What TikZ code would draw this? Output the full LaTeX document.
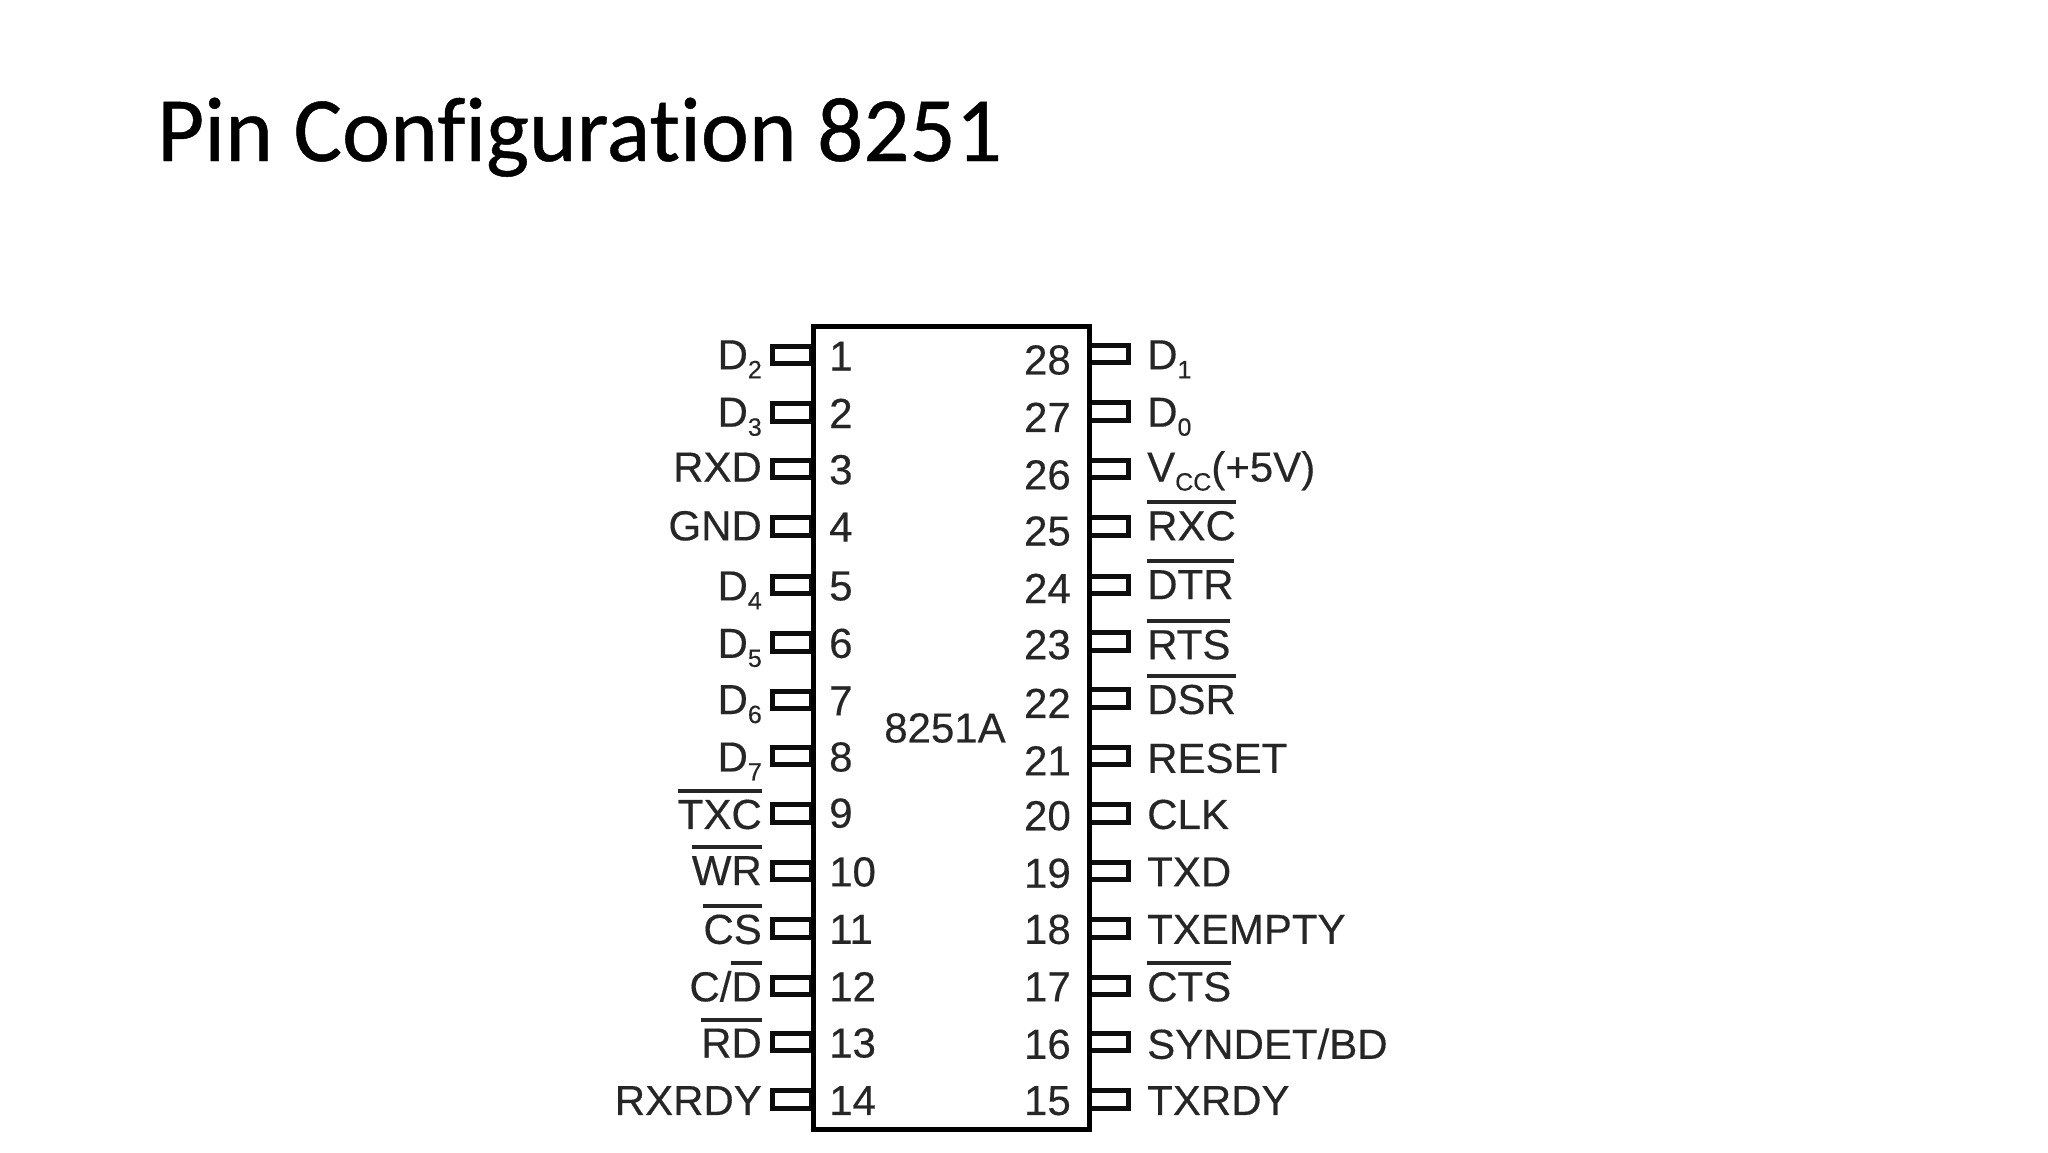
\documentclass[tikz,border=0pt]{standalone}
\usepackage{fontspec}
\setmainfont{Liberation Sans}[FakeBold=0.35]
\newfontfamily\pinfont{Liberation Sans}[FakeBold=0.35]
\newfontfamily\titlefont{Carlito}[RawFeature={-liga;-dlig;-clig},FakeBold=0.5,FakeStretch=0.99]
\newcommand\ob[1]{\setbox0\hbox{#1}\rlap{\raisebox{36pt}{\rule{\wd0}{4pt}}}\box0}
\newcommand\subs[1]{\raisebox{-9pt}{\fontsize{25}{25}\selectfont #1}}
\tikzset{
  chip/.style={draw=black,line width=5pt,minimum width=276pt,minimum height=803pt,inner sep=0pt,outer sep=0pt},
  pinbox/.style={draw=black!95,line width=5pt,minimum width=39pt,minimum height=17.5pt,inner sep=0pt,outer sep=0pt},
  pinlabel/.style={text=black!85,inner sep=0pt,font=\pinfont\fontsize{42}{42}\selectfont},
  pinnum/.style={text=black!85,inner sep=0pt,font=\pinfont\fontsize{42}{42}\selectfont},
}
\begin{document}
\begin{tikzpicture}[x=1pt,y=-1pt]
\useasboundingbox (0,0) rectangle (2048,1152);
\fill[white] (0,0) rectangle (2048,1152);
\node[anchor=base west,inner sep=0pt,text=black] (title) at (157,161) {\titlefont\fontsize{92}{92}\selectfont Pin Configuration 8251};
\foreach \n/\yp/\yn/\yl/\t in {
 1/272/273/272/{D\subs{2}},2/316/317/316/{D\subs{3}},3/359/360/358/{RXD},4/403/404/403/{GND},
 5/448/449/449/{D\subs{4}},6/492/493/493/{D\subs{5}},7/536/537/536/{D\subs{6}},8/579/580/580/{D\subs{7}},
 9/623/623/624/{\ob{TXC}},10/667/668/667/{\ob{WR}},11/711/712/712/{\ob{CS}},12/755/756/756/{C/\ob{D}},
 13/798/799/799/{\ob{RD}},14/842/843/843/{RXRDY}} {
  \node[pinbox] (pin\n) at (792,{1.306*\yp}) {};
  \node[pinnum,anchor=base west] (num\n) at (829,{1.306*\yn+14}) {\n};
  \node[pinlabel,anchor=base east] (lab\n) at (762,{1.306*\yl+14}) {\t};
}
\foreach \n/\yp/\yn/\yl/\t in {
 28/271/276/272/{D\subs{1}},27/315/320/316/{D\subs{0}},26/359/364/358/{V\subs{CC}(+5V)},25/403/407/403/{\ob{RXC}},
 24/448/451/448/{\ob{DTR}},23/491/494/494/{\ob{RTS}},22/535/539/536/{\ob{DSR}},21/579/583/581/{RESET},
 20/623/625/624/{CLK},19/667/669/668/{TXD},18/711/712/712/{TXEMPTY},17/755/756/756/{\ob{CTS}},
 16/798/800/800/{SYNDET/BD},15/842/843/843/{TXRDY}} {
  \node[pinbox] (pin\n) at (1109,{1.306*\yp}) {};
  \node[pinnum,anchor=base east] (num\n) at (1071,{1.306*\yn+14}) {\n};
  \node[pinlabel,anchor=base west] (lab\n) at (1147,{1.306*\yl+14}) {\t};
}
\node[chip,anchor=north west] (ic) at (813,326) {};
\node[pinlabel,anchor=center] (name) at (945,728) {8251A};
\end{tikzpicture}
\end{document}
